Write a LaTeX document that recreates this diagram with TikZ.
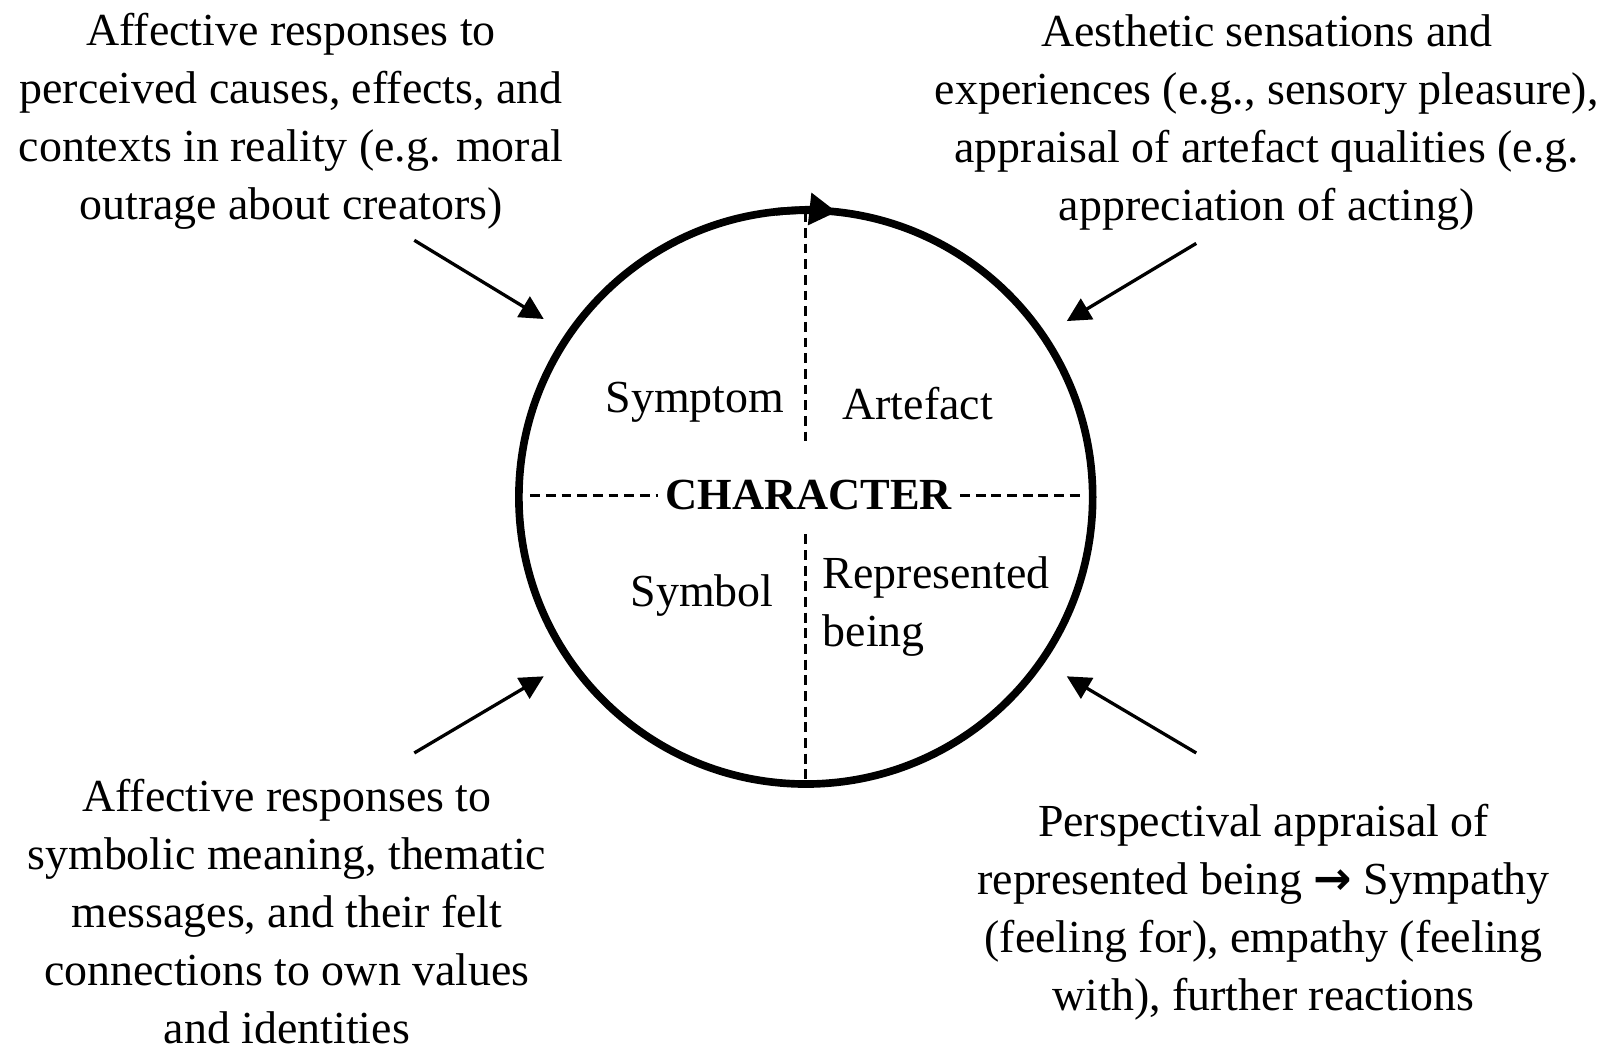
\documentclass[tikz,border=0pt]{standalone}
\usepackage{fontspec}
\setmainfont{Liberation Serif}
\newfontfamily\arrowfont{DejaVu Sans}
\usetikzlibrary{arrows.meta}

\begin{document}
\begin{tikzpicture}[x=0.01cm, y=0.01cm,
    ring/.style={line width=2.1pt},
    split/.style={dash pattern=on 2.7pt off 1.6pt, line width=0.85pt},
    feed/.style={line width=0.9pt, -{Triangle[length=6.5pt,width=6.5pt]}},
    note/.style={align=center, font=\fontsize{12.6}{15.9}\selectfont},
    part/.style={font=\fontsize{12.6}{15.9}\selectfont}]
      \useasboundingbox (0,0) rectangle (1568,-1021);

      % Draw the character circle with its arrow
      \coordinate (c) at (778,-480);
      \draw[ring] (c) circle (277);
      \draw[ring, -{Triangle[length=7.5pt,width=8.5pt]}] (c) ++(96:277) arc (96:83.8:277);

      % Name in the middle
      \node[font=\fontsize{12.2}{15.9}\selectfont\bfseries, inner sep=2pt] (ch) at (781,-478) {CHARACTER};

      % Dashed lines splitting the circle
      \coordinate (west) at (512,-478);
      \coordinate (east) at (1045,-478);
      \coordinate (top) at (778,-205);
      \coordinate (upper) at (778,-430);
      \coordinate (lower) at (778,-516);
      \coordinate (bottom) at (778,-755);
      \draw[split] (west) -- (ch.west);
      \draw[split] (ch.east) -- (east);
      \draw[split] (top) -- (upper);
      \draw[split] (lower) -- (bottom);

      % The four parts
      \node[part] (symptom) at (671,-388) {Symptom};
      \node[part] (artefact) at (886,-390) {Artefact};
      \node[part] (symbol) at (678,-575) {Symbol};
      \node[part, align=left, anchor=west] (being) at (782,-586) {Represented\\being};

      % Responses round the circle
      \node[note] (reality) at (281,-117) {Affective responses to\\perceived causes, effects, and\\contexts in reality (e.g. moral\\outrage about creators)};
      \node[note] (aesthetic) at (1223,-118) {Aesthetic sensations and\\experiences (e.g., sensory pleasure),\\appraisal of artefact qualities (e.g.\\appreciation of acting)};
      \node[note] (meaning) at (277,-880) {Affective responses to\\symbolic meaning, thematic\\messages, and their felt\\connections to own values\\and identities};
      \node[note] (empathy) at (1220,-881) {Perspectival appraisal of\\represented being {\arrowfont\bfseries →} Sympathy\\(feeling for), empathy (feeling\\with), further reactions};

      % Arrows pointing at the circle
      \coordinate (r1) at (400,-232);
      \coordinate (r2) at (525,-308);
      \coordinate (a1) at (1155,-235);
      \coordinate (a2) at (1030,-310);
      \coordinate (m1) at (400,-727);
      \coordinate (m2) at (525,-653);
      \coordinate (e1) at (1155,-727);
      \coordinate (e2) at (1030,-653);
      \draw[feed] (r1) -- (r2);
      \draw[feed] (a1) -- (a2);
      \draw[feed] (m1) -- (m2);
      \draw[feed] (e1) -- (e2);
    \end{tikzpicture}
\end{document}
